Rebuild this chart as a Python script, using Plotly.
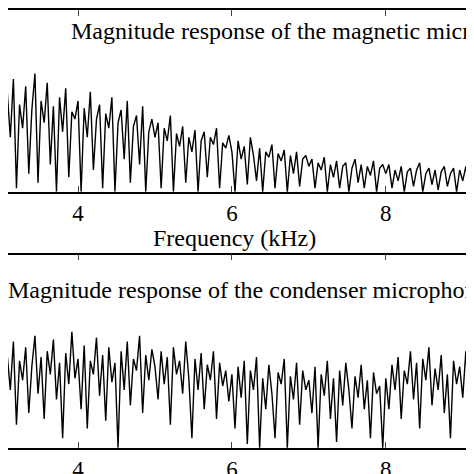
import plotly.graph_objects as go

freq = [round(3.0 + 0.04*i, 2) for i in range(160)]
mag_magnetic = [
 0.42,0.05,0.55,0.30,0.62,0.02,0.48,0.35,0.58,0.10,0.45,0.65,0.05,0.50,0.38,0.60,0.15,0.47,0.00,0.52,0.33,0.57,0.08,0.44,0.40,
 0.50,0.00,0.46,0.30,0.55,0.12,0.40,0.48,0.02,0.43,0.35,0.52,0.00,0.38,0.45,0.18,0.50,0.05,0.36,0.42,0.15,0.47,0.00,0.33,0.40,
 0.30,0.38,0.02,0.35,0.28,0.42,0.00,0.32,0.25,0.36,0.05,0.30,0.22,0.34,0.00,0.28,0.33,0.08,0.30,0.26,0.35,0.02,0.27,0.24,0.31,
 0.22,0.00,0.28,0.18,0.25,0.04,0.30,0.20,0.06,0.24,0.00,0.22,0.19,0.26,0.02,0.21,0.17,0.23,0.00,0.20,0.10,0.22,0.03,0.18,0.20,
 0.14,0.18,0.02,0.16,0.12,0.19,0.00,0.15,0.08,0.17,0.02,0.14,0.16,0.00,0.13,0.18,0.05,0.15,0.02,0.14,0.09,0.17,0.00,0.13,0.15,
 0.10,0.15,0.02,0.12,0.06,0.14,0.00,0.11,0.13,0.03,0.12,0.16,0.00,0.10,0.13,0.04,0.12,0.01,0.11,0.14,0.03,0.10,0.13,0.00,0.12,0.06,0.14,0.02,0.11,0.13,
 0.09,0.12,0.02,0.13,0.10]
mag_condenser = [
 0.40,0.22,0.48,0.30,0.55,0.12,0.45,0.35,0.52,0.18,0.42,0.58,0.28,0.47,0.15,0.50,0.38,0.56,0.25,0.44,0.05,0.49,0.33,0.60,0.36,
 0.46,0.20,0.53,0.10,0.45,0.38,0.57,0.27,0.48,0.14,0.52,0.34,0.44,0.00,0.50,0.30,0.55,0.22,0.46,0.40,0.58,0.18,0.48,0.35,0.51,
 0.42,0.25,0.50,0.33,0.47,0.12,0.52,0.38,0.45,0.28,0.55,0.36,0.05,0.46,0.30,0.49,0.20,0.43,0.35,0.50,0.15,0.44,0.32,0.40,0.24,
 0.38,0.10,0.42,0.26,0.45,0.02,0.40,0.30,0.47,0.00,0.36,0.20,0.43,0.28,0.05,0.39,0.33,0.46,0.00,0.37,0.25,0.44,0.12,0.40,0.30,
 0.35,0.18,0.42,0.00,0.38,0.27,0.45,0.15,0.36,0.03,0.40,0.22,0.44,0.30,0.10,0.37,0.26,0.43,0.20,0.35,0.05,0.39,0.28,0.32,0.00,
 0.36,0.20,0.43,0.30,0.47,0.15,0.40,0.33,0.50,0.25,0.44,0.10,0.46,0.35,0.52,0.22,0.41,0.30,0.48,0.18,0.38,0.05,0.45,0.33,0.42,0.26,0.50,0.20,0.44,0.36,
 0.30,0.45,0.12,0.40,0.34]

fig = go.Figure()
fig.add_trace(go.Scatter(x=freq, y=mag_magnetic, mode="lines", line=dict(color="black", width=1.4), xaxis="x", yaxis="y"))
fig.add_trace(go.Scatter(x=freq, y=mag_condenser, mode="lines", line=dict(color="black", width=1.4), xaxis="x2", yaxis="y2"))

font = dict(family="Liberation Serif", size=24, color="black")
tfont = dict(family="Liberation Serif", size=23, color="black")
ax = dict(range=[3.09, 9.25], tickvals=[4, 6, 8], ticks="inside", ticklen=6, showline=True, linecolor="black",
          linewidth=1.5, mirror="ticks", showgrid=False, zeroline=False, tickfont=tfont)
fig.update_layout(
    width=474, height=474, margin=dict(l=0, r=0, t=0, b=0),
    paper_bgcolor="white", plot_bgcolor="white", showlegend=False,
    xaxis=dict(ax, domain=[0, 1], anchor="y"),
    yaxis=dict(domain=[0.603, 1.0], range=[0, 1], showticklabels=False, ticks="", showgrid=False, zeroline=False, anchor="x"),
    xaxis2=dict(ax, domain=[0, 1], anchor="y2"),
    yaxis2=dict(domain=[0.044, 0.466], range=[0, 1], showticklabels=False, ticks="", showgrid=False, zeroline=False, anchor="x2"),
    annotations=[
        dict(text="Magnitude response of the magnetic microphone", x=61/474, y=(474-22)/474, xref="paper", yref="paper",
             showarrow=False, font=font, xanchor="left", yanchor="middle"),
        dict(text="Frequency (kHz)", x=226/474, y=(474-236)/474, xref="paper", yref="paper",
             showarrow=False, font=font, xanchor="center", yanchor="middle"),
        dict(text="Magnitude response of the condenser microphone", x=-2/474, y=(474-290)/474, xref="paper", yref="paper",
             showarrow=False, font=font, xanchor="left", yanchor="middle"),
    ])
fig.write_html("out.html")
